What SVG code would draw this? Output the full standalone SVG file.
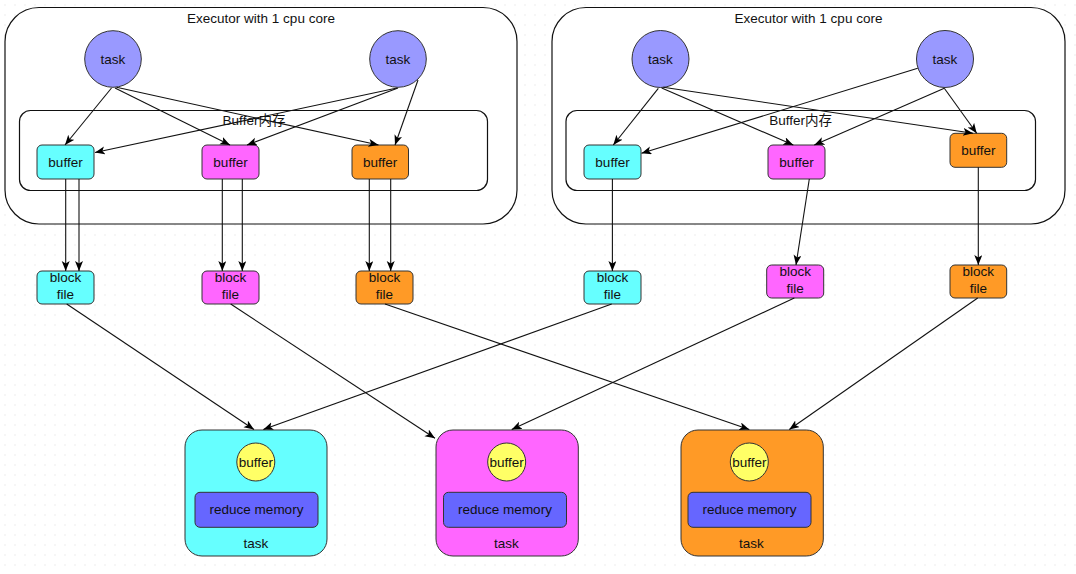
<svg xmlns="http://www.w3.org/2000/svg" width="1076" height="574" viewBox="0 0 1076 574">
<defs>
<pattern id="grid" width="10" height="10" patternUnits="userSpaceOnUse">
<rect x="4.5" y="4.5" width="1" height="1" fill="#dcdcdc"/>
</pattern>
<marker id="arr" markerUnits="userSpaceOnUse" markerWidth="12" markerHeight="10" refX="10" refY="4" orient="auto">
<path d="M0,0 L10,4 L0,8 L2.5,4 Z" fill="#000"/>
</marker>
<style>
text{font-family:"Liberation Sans",Arial,"Noto Sans CJK SC",sans-serif;font-size:13.5px;fill:#111;text-anchor:middle}
.exec{fill:#fff;stroke:#111;stroke-width:1.2}
.inner{fill:#fff;stroke:#111;stroke-width:1.2}
.task{fill:#9999ff;stroke:#333;stroke-width:1}
.nd{stroke:#333;stroke-width:1}
.cy{fill:#66ffff}
.mg{fill:#ff66ff}
.or{fill:#ff9a26}
.yel{fill:#ffff66;stroke:#333;stroke-width:1}
.rm{fill:#6666ff;stroke:#333;stroke-width:1}
.c{fill:none;stroke:#111;stroke-width:1.1;marker-end:url(#arr)}
</style>
</defs>
<rect width="1076" height="574" fill="#fff"/>
<rect width="1076" height="574" fill="url(#grid)"/>

<g id="executor-left">
<rect class="exec" x="5" y="7.5" width="512" height="216.5" rx="34"/>
<text x="261" y="22.5">Executor with 1 cpu core</text>
</g>
<g id="buffer-mem-left">
<rect class="inner" x="19.5" y="110.5" width="468" height="80" rx="11"/>
<text x="254" y="125">Buffer内存</text>
</g>
<g id="executor-right">
<rect class="exec" x="552" y="7.5" width="513" height="216.5" rx="34"/>
<text x="808.5" y="22.5">Executor with 1 cpu core</text>
</g>
<g id="buffer-mem-right">
<rect class="inner" x="566" y="110.5" width="469.5" height="80" rx="11"/>
<text x="800.7" y="125">Buffer内存</text>
</g>

<g id="task-l1"><circle class="task" cx="113" cy="59" r="28.3"/><text x="113" y="63.5">task</text></g>
<g id="task-l2"><circle class="task" cx="398" cy="59" r="28.3"/><text x="398" y="63.5">task</text></g>
<g id="task-r1"><circle class="task" cx="660.5" cy="59" r="28.5"/><text x="660.5" y="63.5">task</text></g>
<g id="task-r2"><circle class="task" cx="945" cy="59" r="28.5"/><text x="945" y="63.5">task</text></g>

<g id="buf-l-cyan"><rect class="nd cy" x="37" y="145" width="57" height="34" rx="5"/><text x="65.5" y="166.5">buffer</text></g>
<g id="buf-l-mag"><rect class="nd mg" x="202" y="145" width="57" height="34" rx="5"/><text x="230.5" y="166.5">buffer</text></g>
<g id="buf-l-orange"><rect class="nd or" x="352" y="145" width="56.5" height="34" rx="5"/><text x="380.2" y="166.5">buffer</text></g>
<g id="buf-r-cyan"><rect class="nd cy" x="584" y="145" width="57" height="34" rx="5"/><text x="612.5" y="166.5">buffer</text></g>
<g id="buf-r-mag"><rect class="nd mg" x="768" y="145" width="57" height="34" rx="5"/><text x="796.5" y="166.5">buffer</text></g>
<g id="buf-r-orange"><rect class="nd or" x="950" y="133.3" width="56.7" height="34" rx="5"/><text x="978.3" y="154.8">buffer</text></g>

<g id="blk-l-cyan"><rect class="nd cy" x="37" y="271" width="57" height="33" rx="5"/><text x="65.5" y="282">block</text><text x="65.5" y="298.7">file</text></g>
<g id="blk-l-mag"><rect class="nd mg" x="202" y="271" width="57" height="33" rx="5"/><text x="230.5" y="282">block</text><text x="230.5" y="298.7">file</text></g>
<g id="blk-l-orange"><rect class="nd or" x="356" y="271" width="57" height="33" rx="5"/><text x="384.5" y="282">block</text><text x="384.5" y="298.7">file</text></g>
<g id="blk-r-cyan"><rect class="nd cy" x="584" y="271" width="57" height="33" rx="5"/><text x="612.5" y="282">block</text><text x="612.5" y="298.7">file</text></g>
<g id="blk-r-mag"><rect class="nd mg" x="766.7" y="265" width="57" height="33" rx="5"/><text x="795.2" y="276">block</text><text x="795.2" y="292.7">file</text></g>
<g id="blk-r-orange"><rect class="nd or" x="950" y="265" width="56.7" height="33" rx="5"/><text x="978.3" y="276">block</text><text x="978.3" y="292.7">file</text></g>

<g id="reduce-cyan">
<rect class="nd cy" x="185" y="430" width="142" height="126" rx="17"/>
<circle class="yel" cx="255.8" cy="462" r="19"/><text x="255.8" y="466.5">buffer</text>
<rect class="rm" x="195" y="492.3" width="123" height="35" rx="5"/><text x="256.5" y="513.8">reduce memory</text>
<text x="256" y="548">task</text>
</g>
<g id="reduce-mag">
<rect class="nd mg" x="436" y="430" width="142.3" height="126" rx="17"/>
<circle class="yel" cx="506.7" cy="462" r="19"/><text x="506.7" y="466.5">buffer</text>
<rect class="rm" x="443.5" y="492.3" width="123" height="35" rx="5"/><text x="505" y="513.8">reduce memory</text>
<text x="506.5" y="548">task</text>
</g>
<g id="reduce-orange">
<rect class="nd or" x="681" y="430" width="142.3" height="126" rx="17"/>
<circle class="yel" cx="749.3" cy="462" r="19"/><text x="749.3" y="466.5">buffer</text>
<rect class="rm" x="688" y="492.3" width="123" height="35" rx="5"/><text x="749.5" y="513.8">reduce memory</text>
<text x="751.5" y="548">task</text>
</g>

<g id="connectors">
<line class="c" x1="111.5" y1="88" x2="65" y2="145"/>
<line class="c" x1="115" y1="88" x2="230" y2="145"/>
<line class="c" x1="116.5" y1="87.3" x2="378.5" y2="145"/>
<line class="c" x1="397" y1="88" x2="95" y2="152.5"/>
<line class="c" x1="398" y1="88" x2="247" y2="145"/>
<line class="c" x1="418" y1="80" x2="395" y2="145"/>

<line class="c" x1="65.7" y1="179" x2="65.7" y2="271"/>
<line class="c" x1="79" y1="179" x2="79" y2="271"/>
<line class="c" x1="222.3" y1="179" x2="222.3" y2="271"/>
<line class="c" x1="242.3" y1="179" x2="242.3" y2="271"/>
<line class="c" x1="369.3" y1="179" x2="369.3" y2="271"/>
<line class="c" x1="390.7" y1="179" x2="390.7" y2="271"/>

<line class="c" x1="658.3" y1="88.3" x2="613.3" y2="145"/>
<line class="c" x1="661.7" y1="88" x2="793.3" y2="145"/>
<line class="c" x1="663.3" y1="87.3" x2="973" y2="133.3"/>
<line class="c" x1="917.7" y1="68.3" x2="641.5" y2="153.3"/>
<line class="c" x1="944.3" y1="88.3" x2="814.3" y2="145"/>
<line class="c" x1="944.3" y1="88.3" x2="976.7" y2="133.3"/>

<line class="c" x1="612.4" y1="179" x2="612.4" y2="271"/>
<line class="c" x1="809.3" y1="179" x2="796" y2="265"/>
<line class="c" x1="978.3" y1="167.3" x2="978.3" y2="265"/>

<line class="c" x1="66.7" y1="304" x2="254" y2="429.5"/>
<line class="c" x1="611.7" y1="304" x2="263.3" y2="429.5"/>
<line class="c" x1="230.7" y1="304" x2="435" y2="438.3"/>
<line class="c" x1="794.3" y1="298" x2="511.7" y2="429.5"/>
<line class="c" x1="385" y1="304" x2="749.3" y2="429.5"/>
<line class="c" x1="977.7" y1="298" x2="789.3" y2="429.5"/>
</g>
</svg>
